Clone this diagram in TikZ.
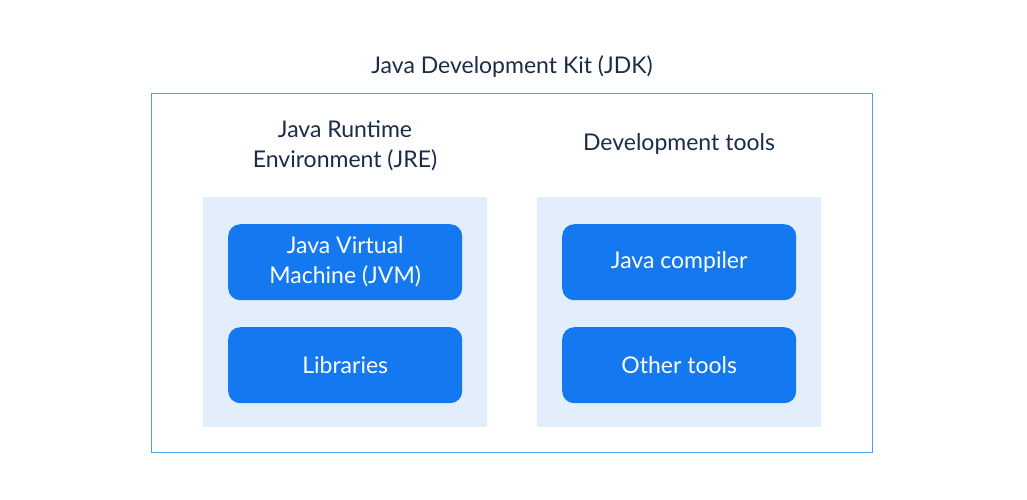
\documentclass[tikz,border=0pt]{standalone}
\usepackage{fontspec}
\setmainfont{Lato}
\definecolor{navy}{HTML}{1B2B48}
\definecolor{edge}{HTML}{4AA3EA}
\definecolor{panel}{HTML}{E3EEFC}
\definecolor{btn}{HTML}{1479F0}
\begin{document}
\begin{tikzpicture}[x=1pt,y=-1pt,
  lbl/.style={text=navy,font=\fontsize{23}{30}\selectfont,align=center},
  btnbox/.style={fill=btn,rounded corners=12pt,minimum width=234pt,minimum height=76pt,text=white,font=\fontsize{23}{30}\selectfont,align=center,anchor=north west},
  panelbox/.style={fill=panel,minimum width=284pt,minimum height=230pt,anchor=north west}]
\useasboundingbox (0,0) rectangle (1027,499);
\node[draw=edge,line width=1pt,minimum width=721pt,minimum height=359pt,anchor=north west] (outer) at (151,93) {};
\node[lbl] (title) at (512,67) {Java Development Kit (JDK)};
\node[panelbox] (jre) at (203,197) {};
\node[panelbox] (dev) at (537,197) {};
\node[lbl] (jrel) at (345,146) {Java Runtime\\Environment (JRE)};
\node[lbl] (devl) at (679,144) {Development tools};
\node[btnbox] (jvm) at (228,224) {Java Virtual\\Machine (JVM)};
\node[btnbox] (lib) at (228,327) {Libraries};
\node[btnbox] (jc) at (562,224) {Java compiler};
\node[btnbox] (ot) at (562,327) {Other tools};
\end{tikzpicture}
\end{document}
